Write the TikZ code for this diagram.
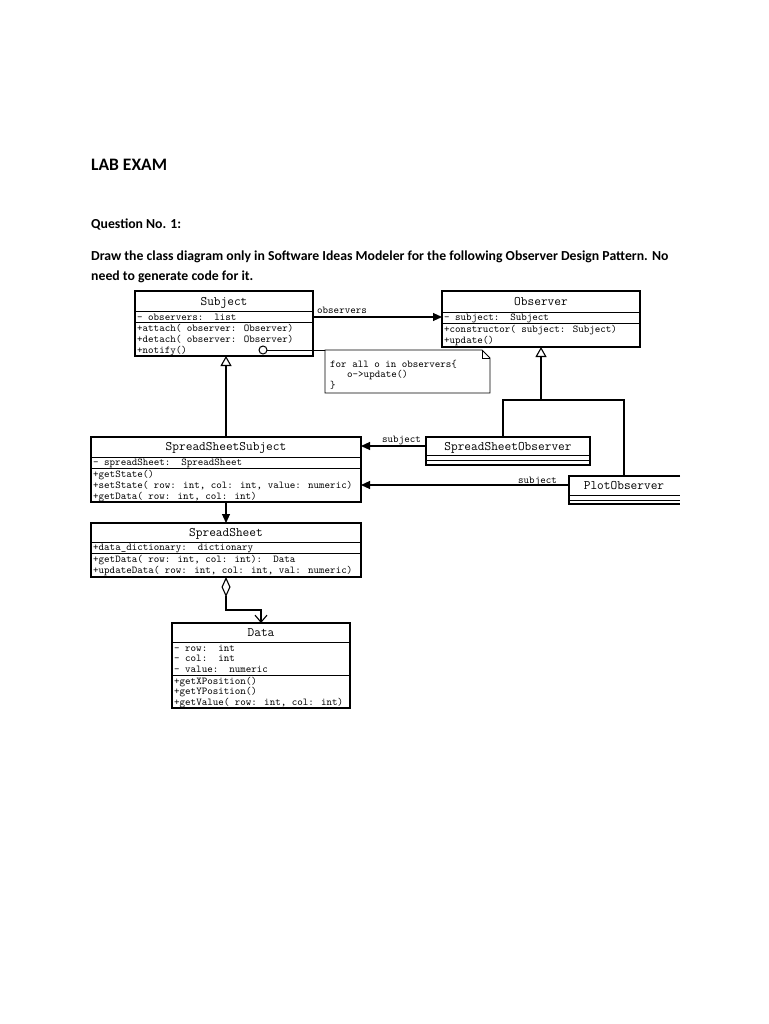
\documentclass[tikz,border=0pt]{standalone}
\usepackage{fontspec}
\newfontfamily\hdfont{Carlito}
\usetikzlibrary{arrows.meta,calc}
\begin{document}
\begin{tikzpicture}[x=1pt,y=-1pt,
  box/.style={draw, line width=1.1pt, inner sep=0pt, outer sep=0pt, anchor=north west},
  ghost/.style={inner sep=0pt, outer sep=0pt, anchor=north west},
  sepline/.style={line width=0.9pt},
  ttl/.style={font=\ttfamily\fontsize{13}{13}\selectfont, anchor=base, inner sep=0pt},
  row/.style={font=\ttfamily\fontsize{10.5}{10.5}\selectfont, anchor=base west, inner sep=0pt},
  hd/.style={font=\hdfont\bfseries\fontsize{13.75}{16}\selectfont, anchor=base west, inner sep=0pt},
  conn/.style={line width=1.1pt},
  assoc/.style={conn, -{Triangle[length=9pt,width=8pt]}},
  gen/.style={conn, -{Triangle[open,length=10pt,width=11pt,fill=white]}},
]
\fill[white] (0,0) rectangle (768,1024);
\useasboundingbox (0,0) rectangle (768,1024);

% headings
\node[hd, font=\hdfont\bfseries\fontsize{17.5}{20}\selectfont] (h1) at (91,171) {LAB EXAM};
\node[hd] (h2) at (91,229) {Question No. 1:};
\node[hd] (h3) at (91,260) {Draw the class diagram only in Software Ideas Modeler for the following Observer Design Pattern. No};
\node[hd] (h4) at (91,280) {need to generate code for it.};

% Subject
\node[box, minimum width=178pt, minimum height=65pt] (subj) at (135,291) {};
\draw[sepline] ($(subj.north west)+(0,20)$) -- ($(subj.north east)+(0,20)$);
\draw[sepline] ($(subj.north west)+(0,31)$) -- ($(subj.north east)+(0,31)$);
\node[ttl] (subjt) at (224,305.5) {Subject};
\node[row] (subja) at (137,320) {- observers:~~list};
\node[row] (subjm1) at (137,331) {+attach( observer: Observer)};
\node[row] (subjm2) at (137,342) {+detach( observer: Observer)};
\node[row] (subjm3) at (137,353) {+notify()};

% Observer
\node[box, minimum width=198pt, minimum height=56pt] (obs) at (442,291) {};
\draw[sepline] ($(obs.north west)+(0,21)$) -- ($(obs.north east)+(0,21)$);
\draw[sepline] ($(obs.north west)+(0,32)$) -- ($(obs.north east)+(0,32)$);
\node[ttl] (obst) at (541,305.5) {Observer};
\node[row] (obsa) at (444,320.5) {- subject:~~Subject};
\node[row] (obsm1) at (444,332) {+constructor( subject: Subject)};
\node[row] (obsm2) at (444,343) {+update()};

% note
\node[ghost, minimum width=165pt, minimum height=43pt] (note) at (325,350) {};
\draw[line width=0.8pt, fill=white] (note.north west) -- ($(note.north east)+(-8,0)$) -- ($(note.north east)+(0,8)$) -- (note.south east) -- (note.south west) -- cycle;
\draw[line width=0.8pt] ($(note.north east)+(-8,0)$) -- ($(note.north east)+(-8,8)$) -- ($(note.north east)+(0,8)$);
\node[row] (n1) at (330,367) {for all o in observers\{};
\node[row] (n2) at (347,377.5) {o->update()};
\node[row] (n3) at (330,388) {\}};

% SpreadSheetSubject
\node[box, minimum width=270pt, minimum height=65pt] (sss) at (91,437) {};
\draw[sepline] ($(sss.north west)+(0,20)$) -- ($(sss.north east)+(0,20)$);
\draw[sepline] ($(sss.north west)+(0,31)$) -- ($(sss.north east)+(0,31)$);
\node[ttl] (ssst) at (226,450.5) {SpreadSheetSubject};
\node[row] (sssa) at (93,465.5) {- spreadSheet:~~SpreadSheet};
\node[row] (sssm1) at (93,477) {+getState()};
\node[row] (sssm2) at (93,488) {+setState( row: int, col: int, value: numeric)};
\node[row] (sssm3) at (93,499) {+getData( row: int, col: int)};

% SpreadSheetObserver
\node[box, minimum width=164pt, minimum height=28pt] (sso) at (426,437) {};
\draw[sepline] ($(sso.north west)+(0,18)$) -- ($(sso.north east)+(0,18)$);
\draw[sepline] ($(sso.north west)+(0,23)$) -- ($(sso.north east)+(0,23)$);
\node[ttl] (ssot) at (508,450.5) {SpreadSheetObserver};

% PlotObserver (right edge cut off)
\node[ghost, minimum width=111pt, minimum height=28pt] (po) at (569,476) {};
\draw[line width=1.1pt] (po.north east) -- (po.north west) -- (po.south west) -- (po.south east);
\draw[sepline] ($(po.north west)+(0,19)$) -- ($(po.north east)+(0,19)$);
\draw[sepline] ($(po.north west)+(0,24)$) -- ($(po.north east)+(0,24)$);
\node[ttl] (pot) at (624,489.5) {PlotObserver};

% SpreadSheet
\node[box, minimum width=270pt, minimum height=54pt] (ss) at (91,523) {};
\draw[sepline] ($(ss.north west)+(0,19)$) -- ($(ss.north east)+(0,19)$);
\draw[sepline] ($(ss.north west)+(0,30)$) -- ($(ss.north east)+(0,30)$);
\node[ttl] (sst) at (226,536.5) {SpreadSheet};
\node[row] (ssa) at (93,550.5) {+data\_dictionary:~~dictionary};
\node[row] (ssm1) at (93,562) {+getData( row: int, col: int):~~Data};
\node[row] (ssm2) at (93,573) {+updateData( row: int, col: int, val: numeric)};

% Data
\node[box, minimum width=178pt, minimum height=85pt] (data) at (172,623) {};
\draw[sepline] ($(data.north west)+(0,19)$) -- ($(data.north east)+(0,19)$);
\draw[sepline] ($(data.north west)+(0,52)$) -- ($(data.north east)+(0,52)$);
\node[ttl] (datat) at (261,636.5) {Data};
\node[row] (dataa1) at (174,651) {- row:~~int};
\node[row] (dataa2) at (174,661.5) {- col:~~int};
\node[row] (dataa3) at (174,672) {- value:~~numeric};
\node[row] (datam1) at (174,684) {+getXPosition()};
\node[row] (datam2) at (174,694.5) {+getYPosition()};
\node[row] (datam3) at (174,705) {+getValue( row: int, col: int)};

% connectors
\draw[assoc] ($(subj.north east)+(0,26)$) -- ($(obs.north west)+(0,26)$);
\node[row] (lobs) at (317,313) {observers};

\draw[line width=1pt] (265,350) -- (note.north west);
\node[circle, draw, line width=1pt, minimum size=8pt, inner sep=0pt, fill=white] (nc) at (263,350) {};

\draw[gen] (sss.north) -- (sss.north |- subj.south);

\coordinate (j) at ($(obs.south)+(0,53)$);
\draw[gen] (j) -- (obs.south);
\draw[conn] ($(sso.north west)+(77,0)$) |- (j) -| ($(po.north west)+(55,0)$);

\coordinate (s1) at ($(sso.north west)+(0,9)$);
\draw[assoc] (s1) -- (s1 -| sss.east);
\node[row, anchor=base east] (ls1) at (421,442) {subject};
\coordinate (s2) at ($(po.north west)+(0,9)$);
\draw[assoc] (s2) -- (s2 -| sss.east);
\node[row, anchor=base east] (ls2) at (557,483) {subject};

\draw[assoc] (sss.south) -- (ss.north);

\draw[conn, {Diamond[open,length=20pt,width=9pt,fill=white]}-{Straight Barb[length=7pt,width=12pt]}] (ss.south) -- ++(0,33) -| (data.north);
\end{tikzpicture}
\end{document}
